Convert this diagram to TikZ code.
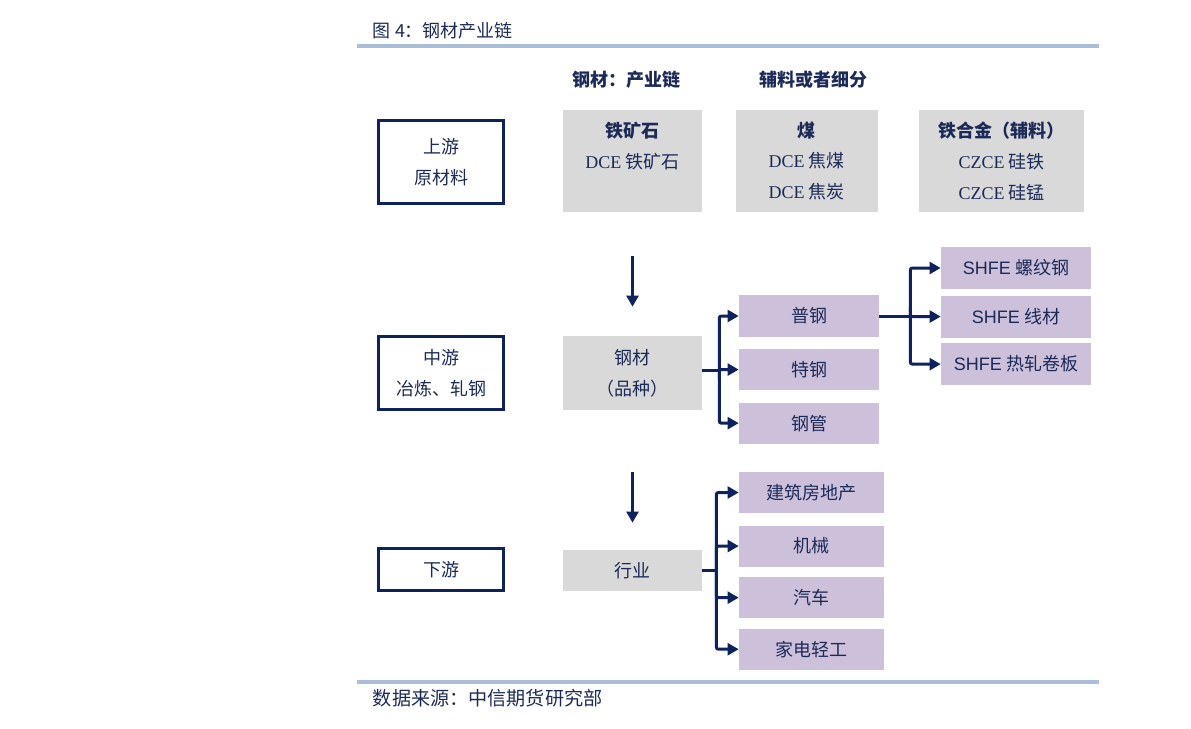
\documentclass[tikz,border=0pt]{standalone}
\usepackage{fontspec}
\setmainfont{Noto Sans CJK SC}
\newfontfamily\tnr{Liberation Serif}
\newfontfamily\arial{Liberation Sans}
\usepackage{xcolor}
\usepackage{tikz}
\usetikzlibrary{arrows.meta, positioning}

\definecolor{navy}{RGB}{14,34,94}
\definecolor{ink}{RGB}{28,42,88}
\definecolor{boxgray}{RGB}{217,217,217}
\definecolor{boxpurple}{RGB}{204,192,218}
\definecolor{rulecol}{RGB}{170,190,218}

\begin{document}
\begin{tikzpicture}[
    x=0.025cm, y=-0.025cm,
    font=\fontsize{12.8}{22}\selectfont,
    text=ink,
    stage/.style={rectangle, draw=navy, line width=0.075cm, fill=white, minimum width=3.125cm, align=center},
    graybox/.style={rectangle, fill=boxgray, minimum width=3.475cm, align=center},
    purplebox/.style={rectangle, fill=boxpurple, minimum height=1.025cm, align=center},
    head/.style={font=\fontsize{12.8}{22}\selectfont\bfseries},
    link/.style={line width=0.075cm, draw=navy},
    arrow/.style={-{Triangle[length=0.28cm, width=0.3cm]}, line width=0.075cm, draw=navy, rounded corners=1.5pt},
    rule/.style={line width=0.08cm, draw=rulecol}
]
\useasboundingbox (0,0) rectangle (1191,729);

% Title and rules
\node[anchor=west] (title) at (368,31) {图 4：钢材产业链};
\draw[rule] (357,46) -- (1099,46);
\draw[rule] (357,682) -- (1099,682);
\node[anchor=west, font=\fontsize{13.6}{16}\selectfont] (source) at (368,698) {数据来源：中信期货研究部};

% Column heads
\node[head] (hchain) at (626,80) {钢材：产业链};
\node[head] (hsub) at (813,80) {辅料或者细分};

% Stages
\node[stage, minimum height=2.075cm] (up) at (441,162) {上游\\原材料};
\node[stage, minimum height=1.825cm] (mid) at (441,373) {中游\\冶炼、轧钢};
\node[stage, minimum height=1.05cm] (down) at (441,569.5) {下游};

% Upstream - raw materials
\node[graybox, minimum height=2.55cm] (ore) at (632.5,161) {{\bfseries 铁矿石}\\{\tnr DCE} 铁矿石\\\mbox{}};
\node[graybox, minimum width=3.55cm, minimum height=2.55cm, right=0.825cm of ore] (coal) {{\bfseries 煤}\\{\tnr DCE} 焦煤\\{\tnr DCE} 焦炭};
\node[graybox, minimum width=4.125cm, minimum height=2.55cm, right=1.025cm of coal] (alloy) {{\bfseries 铁合金（辅料）}\\{\tnr CZCE} 硅铁\\{\tnr CZCE} 硅锰};

% Midstream - steel products
\node[graybox, minimum height=1.85cm] (steel) at (632.5,373) {钢材\\（品种）};
\node[purplebox, minimum width=3.5cm] (pu) at (809,316) {普钢};
\node[purplebox, minimum width=3.5cm, below=0.3cm of pu] (te) {特钢};
\node[purplebox, minimum width=3.5cm, below=0.3cm of te] (pipe) {钢管};

\node[purplebox, minimum width=3.75cm, minimum height=1.05cm] (rebar) at (1016,268) {{\arial SHFE} 螺纹钢};
\node[purplebox, minimum width=3.75cm, minimum height=1.05cm, below=0.15cm of rebar] (wire) {{\arial SHFE} 线材};
\node[purplebox, minimum width=3.75cm, minimum height=1.05cm, below=0.125cm of wire] (hrc) {{\arial SHFE} 热轧卷板};

% Downstream - industries
\node[graybox, minimum height=1.025cm] (ind) at (632.5,570.5) {行业};
\node[purplebox, minimum width=3.625cm] (build) at (811.5,492.5) {建筑房地产};
\node[purplebox, minimum width=3.625cm, below=0.3cm of build] (mach) {机械};
\node[purplebox, minimum width=3.625cm, below=0.25cm of mach] (auto) {汽车};
\node[purplebox, minimum width=3.625cm, below=0.25cm of auto] (home) {家电轻工};

% Arrows
\draw[arrow, shorten <=1.1cm, shorten >=0.725cm] (ore) -- (steel);
\draw[arrow, shorten <=1.55cm, shorten >=0.675cm] (steel) -- (ind);

\draw[link] ([yshift=0.075cm]steel.east) -- ++(17,0) coordinate (sb);
\foreach \t in {pu, te, pipe}
    \draw[arrow] (sb) |- (\t.west);

\draw[link] (pu.east) -- ++(31,0) coordinate (pb);
\foreach \t in {rebar, wire, hrc}
    \draw[arrow] (pb) |- (\t.west);

\draw[link] (ind.east) -- ++(14,0) coordinate (ib);
\foreach \t in {build, mach, auto, home}
    \draw[arrow] (ib) |- (\t.west);

\end{tikzpicture}
\end{document}
